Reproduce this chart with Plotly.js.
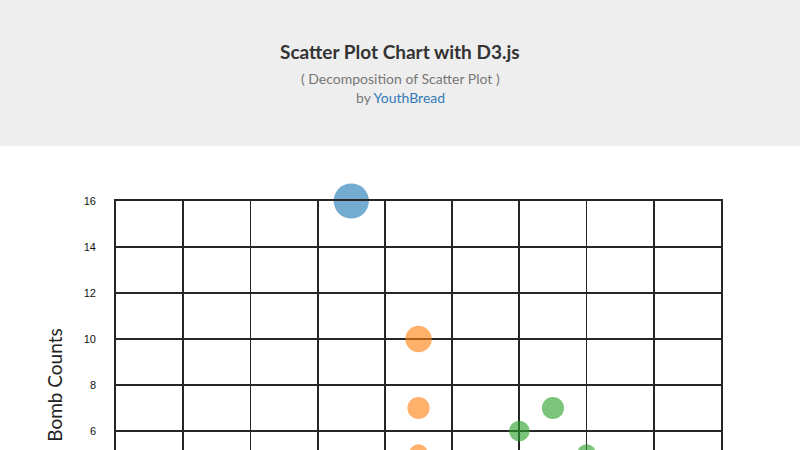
<!DOCTYPE html>
<html>
<head>
<meta charset="utf-8">
<script src="https://cdn.plot.ly/plotly-3.0.1.min.js"></script>
<style>
html,body{margin:0;padding:0;background:#fff;overflow:hidden;}
#chart{width:800px;height:680px;}
</style>
</head>
<body>
<div id="chart"></div>
<script>
// Data
const groupA_x = [3.5];
const groupA_y = [16];
const groupA_s = [16];

const groupB_x = [4.5, 4.5, 4.5];
const groupB_y = [10, 7, 5];
const groupB_s = [10, 7, 5];

const groupC_x = [6, 6.5, 7];
const groupC_y = [6, 7, 5];
const groupC_s = [6, 7, 5];

const yTicks = [6, 8, 10, 12, 14, 16];

const titleText = "Scatter Plot Chart with D3.js";
const subtitleText = "( Decomposition of Scatter Plot )";
const byText = "by <span style='color:#337ab7'>YouthBread</span>";
const yTitle = "Bomb Counts";

function sizes(arr){ return arr.map(v => 12 + v * 1.45); }

function trace(xs, ys, ss, color){
  return {
    type: 'scatter', mode: 'markers', x: xs, y: ys,
    marker: {color: color, opacity: 0.62, size: sizes(ss), line: {width: 0}},
    showlegend: false, hoverinfo: 'x+y', cliponaxis: false
  };
}

const data = [
  trace(groupA_x, groupA_y, groupA_s, '#1f77b4'),
  trace(groupB_x, groupB_y, groupB_s, '#ff7f0e'),
  trace(groupC_x, groupC_y, groupC_s, '#2ca02c')
];

const H = 680, T = 201, B = 111;
const plotH = H - T - B; // 368
const bottomPx = T + plotH;
function py(p){ return (bottomPx - p) / plotH; }

const layout = {
  width: 800, height: H,
  margin: {l: 116, r: 79, t: T, b: B},
  paper_bgcolor: '#ffffff', plot_bgcolor: '#ffffff',
  font: {family: 'Liberation Sans, Arial, sans-serif', color: '#000'},
  xaxis: {
    range: [0, 9], dtick: 1, tick0: 0, showticklabels: false,
    showgrid: true, gridcolor: '#262626', gridwidth: 1.8,
    showline: true, linecolor: '#262626', linewidth: 1.8, mirror: true,
    zeroline: false, ticks: '', fixedrange: true
  },
  yaxis: {
    range: [0, 16], tickvals: yTicks, ticktext: yTicks.map(String),
    showgrid: true, gridcolor: '#262626', gridwidth: 1.8,
    showline: true, linecolor: '#262626', linewidth: 1.8, mirror: true,
    zeroline: false, ticks: '', ticklabelstandoff: 16,
    tickfont: {family: 'Liberation Sans, Arial, sans-serif', size: 11, color: '#111'},
    title: {text: yTitle, standoff: 16,
            font: {family: 'Lato, Open Sans, sans-serif', size: 19, color: '#222'}},
    fixedrange: true
  },
  shapes: [{
    type: 'rect', xref: 'paper', yref: 'paper', layer: 'below',
    x0: -116/605, x1: 1 + 79/605, y0: py(146), y1: py(0) + 0.01,
    fillcolor: '#eeeeee', line: {width: 0}
  }],
  annotations: [
    {text: titleText, xref: 'paper', yref: 'paper', x: (400-116)/605, y: py(52),
     xanchor: 'center', yanchor: 'middle', showarrow: false,
     font: {family: 'Lato, Open Sans, sans-serif', size: 19, color: '#333', weight: 700}},
    {text: subtitleText, xref: 'paper', yref: 'paper', x: (400-116)/605, y: py(78.5),
     xanchor: 'center', yanchor: 'middle', showarrow: false,
     font: {family: 'Lato, Open Sans, sans-serif', size: 14, color: '#777'}},
    {text: byText, xref: 'paper', yref: 'paper', x: (400-116)/605, y: py(97.5),
     xanchor: 'center', yanchor: 'middle', showarrow: false,
     font: {family: 'Lato, Open Sans, sans-serif', size: 14, color: '#777'}}
  ]
};

Plotly.newPlot('chart', data, layout, {displayModeBar: false, staticPlot: true});
</script>
</body>
</html>
